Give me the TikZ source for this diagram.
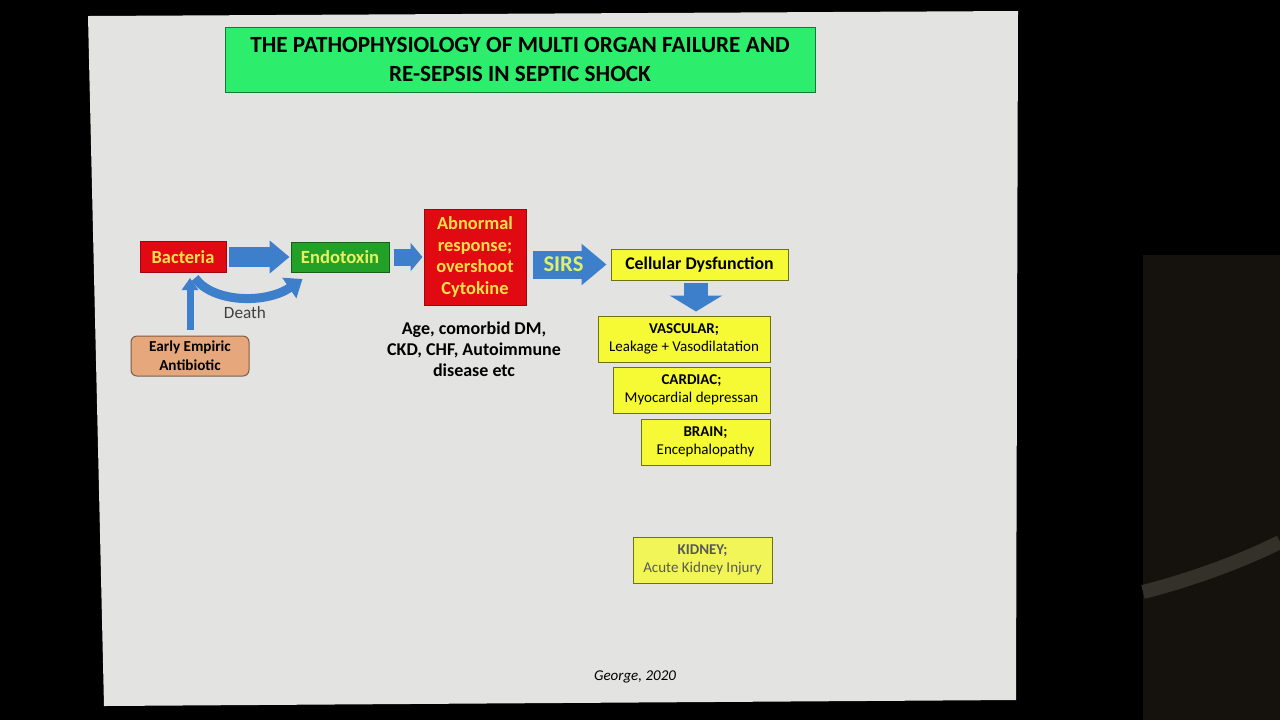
\documentclass[tikz,border=0pt]{standalone}
\usepackage{fontspec}
\setmainfont{Carlito}
\usepackage{tikz}
\usetikzlibrary{positioning,arrows.meta}
\definecolor{slidecolor}{HTML}{E3E3E1}
\definecolor{roomcolor}{HTML}{15110D}
\definecolor{bandcolor}{HTML}{34312B}
\definecolor{titlegreen}{HTML}{2CEE6C}
\definecolor{boxred}{HTML}{E20A12}
\definecolor{redtext}{HTML}{FFE04A}
\definecolor{boxgreen}{HTML}{22A028}
\definecolor{greentext}{HTML}{E6F25E}
\definecolor{boxyellow}{HTML}{F6FA34}
\definecolor{arrowblue}{HTML}{3E7FCC}
\definecolor{sirstext}{HTML}{DDF06C}
\definecolor{antibiotic}{HTML}{E6A77C}

\begin{document}
\begin{tikzpicture}[
    x=0.5pt, y=-0.5pt,
    box/.style={rectangle, draw=black!55, line width=0.5pt,
                align=center, inner sep=1pt},
    titlebox/.style={box, fill=titlegreen, draw=titlegreen!50!black,
                     minimum width=295pt, minimum height=32.5pt,
                     font=\bfseries\fontsize{11.6pt}{14.5pt}\selectfont},
    redbox/.style={box, fill=boxred, text=redtext, draw=boxred!70!black,
                   font=\bfseries\fontsize{9.2pt}{10.8pt}\selectfont},
    greenbox/.style={box, fill=boxgreen, text=greentext, draw=boxgreen!60!black,
                     font=\bfseries\fontsize{9.3pt}{10.8pt}\selectfont},
    yellowbox/.style={box, fill=boxyellow, draw=boxyellow!45!black,
                      font=\bfseries\fontsize{8.9pt}{10pt}\selectfont},
    organbox/.style={box, fill=boxyellow, draw=boxyellow!45!black,
                     minimum height=23pt,
                     font=\fontsize{7.5pt}{9pt}\selectfont},
    antibox/.style={box, rounded corners=3pt, fill=antibiotic,
                    draw=antibiotic!55!black,
                    minimum width=59pt, minimum height=20pt,
                    font=\bfseries\fontsize{7.6pt}{9.5pt}\selectfont},
    fatarrow/.style n args={3}{draw=arrowblue, line width=#1,
                               -{Triangle[width=#2,length=#3]}}
]
\useasboundingbox (0,0) rectangle (1280,720);
\fill[black] (0,0) rectangle (1280,720);
\fill[roomcolor] (1143,255) rectangle (1280,720);
\draw[bandcolor, line width=7pt] (1143,592) .. controls (1190,580) and (1240,562) .. (1280,542);
\fill[slidecolor] (88,16) -- (1018,11) -- (1016,700) -- (104,706) -- cycle;

\node[titlebox] (title) at (520,59.5)
    {THE PATHOPHYSIOLOGY OF MULTI ORGAN FAILURE AND\\RE-SEPSIS IN SEPTIC SHOCK};

\node[redbox, minimum width=43pt, minimum height=15.5pt] (bact) at (183,257) {Bacteria};
\node[greenbox, right=32pt of bact, minimum width=49pt, minimum height=15pt] (endo) {Endotoxin};
\node[redbox, right=17pt of endo, minimum width=51pt, minimum height=48pt] (abn)
    {Abnormal\\response;\\overshoot\\Cytokine};
\node[yellowbox, minimum width=88.5pt, minimum height=15.5pt] (cell) at (699.5,264.5)
    {Cellular Dysfunction};

\node[organbox, minimum width=86pt] (vasc) at (684,339)
    {\textbf{VASCULAR;}\\Leakage + Vasodilatation};
\node[organbox, minimum width=78.5pt, below=2pt of vasc.south east, anchor=north east] (card)
    {\textbf{CARDIAC;}\\Myocardial depressan};
\node[organbox, minimum width=64.5pt, below=2.5pt of card.south east, anchor=north east] (brain)
    {\textbf{BRAIN;}\\Encephalopathy};
\node[organbox, minimum width=69.5pt, fill=boxyellow!80!slidecolor, text=black!65] (kid) at (702.5,560)
    {\textbf{KIDNEY;}\\Acute Kidney Injury};

\node[antibox] (anti) at (190,356) {Early Empiric\\Antibiotic};
\node[align=center, font=\bfseries\fontsize{9pt}{10.5pt}\selectfont] (age) at (474,349)
    {Age, comorbid DM,\\CKD, CHF, Autoimmune\\disease etc};
\node[text=black!75, font=\fontsize{8.6pt}{10pt}\selectfont] (death) at (245,313) {Death};
\node[font=\itshape\fontsize{7.5pt}{8pt}\selectfont] (cite) at (635,677) {George, 2020};

\draw[fatarrow={10pt}{16pt}{10pt}, shorten <=1pt, shorten >=0.5pt] (bact) -- (endo);
\draw[fatarrow={8.5pt}{14pt}{6pt}, shorten <=2pt, shorten >=0.5pt] (endo) -- (abn);
\draw[fatarrow={14pt}{20pt}{12.5pt}, shorten <=3pt, shorten >=2pt] (abn.east |- cell.west) --
    node[pos=0.44, text=sirstext, font=\bfseries\fontsize{11.3pt}{12pt}\selectfont] {SIRS} (cell.west);
\draw[fatarrow={12pt}{26pt}{8pt}, shorten <=1pt, shorten >=2pt] ([xshift=-1.75pt]cell.south) -- ([xshift=-1.75pt]cell.south |- vasc.north);
\draw[fatarrow={3.5pt}{8pt}{6pt}, shorten <=3pt, shorten >=2.5pt] (anti) -- (anti |- bact.south);
\draw[fatarrow={4.5pt}{12pt}{8pt}] ([xshift=6pt,yshift=-2.5pt]bact.south)
    .. controls (213,303) and (266,304) .. ([xshift=6pt,yshift=-3.25pt]endo.south west);
\end{tikzpicture}
\end{document}
